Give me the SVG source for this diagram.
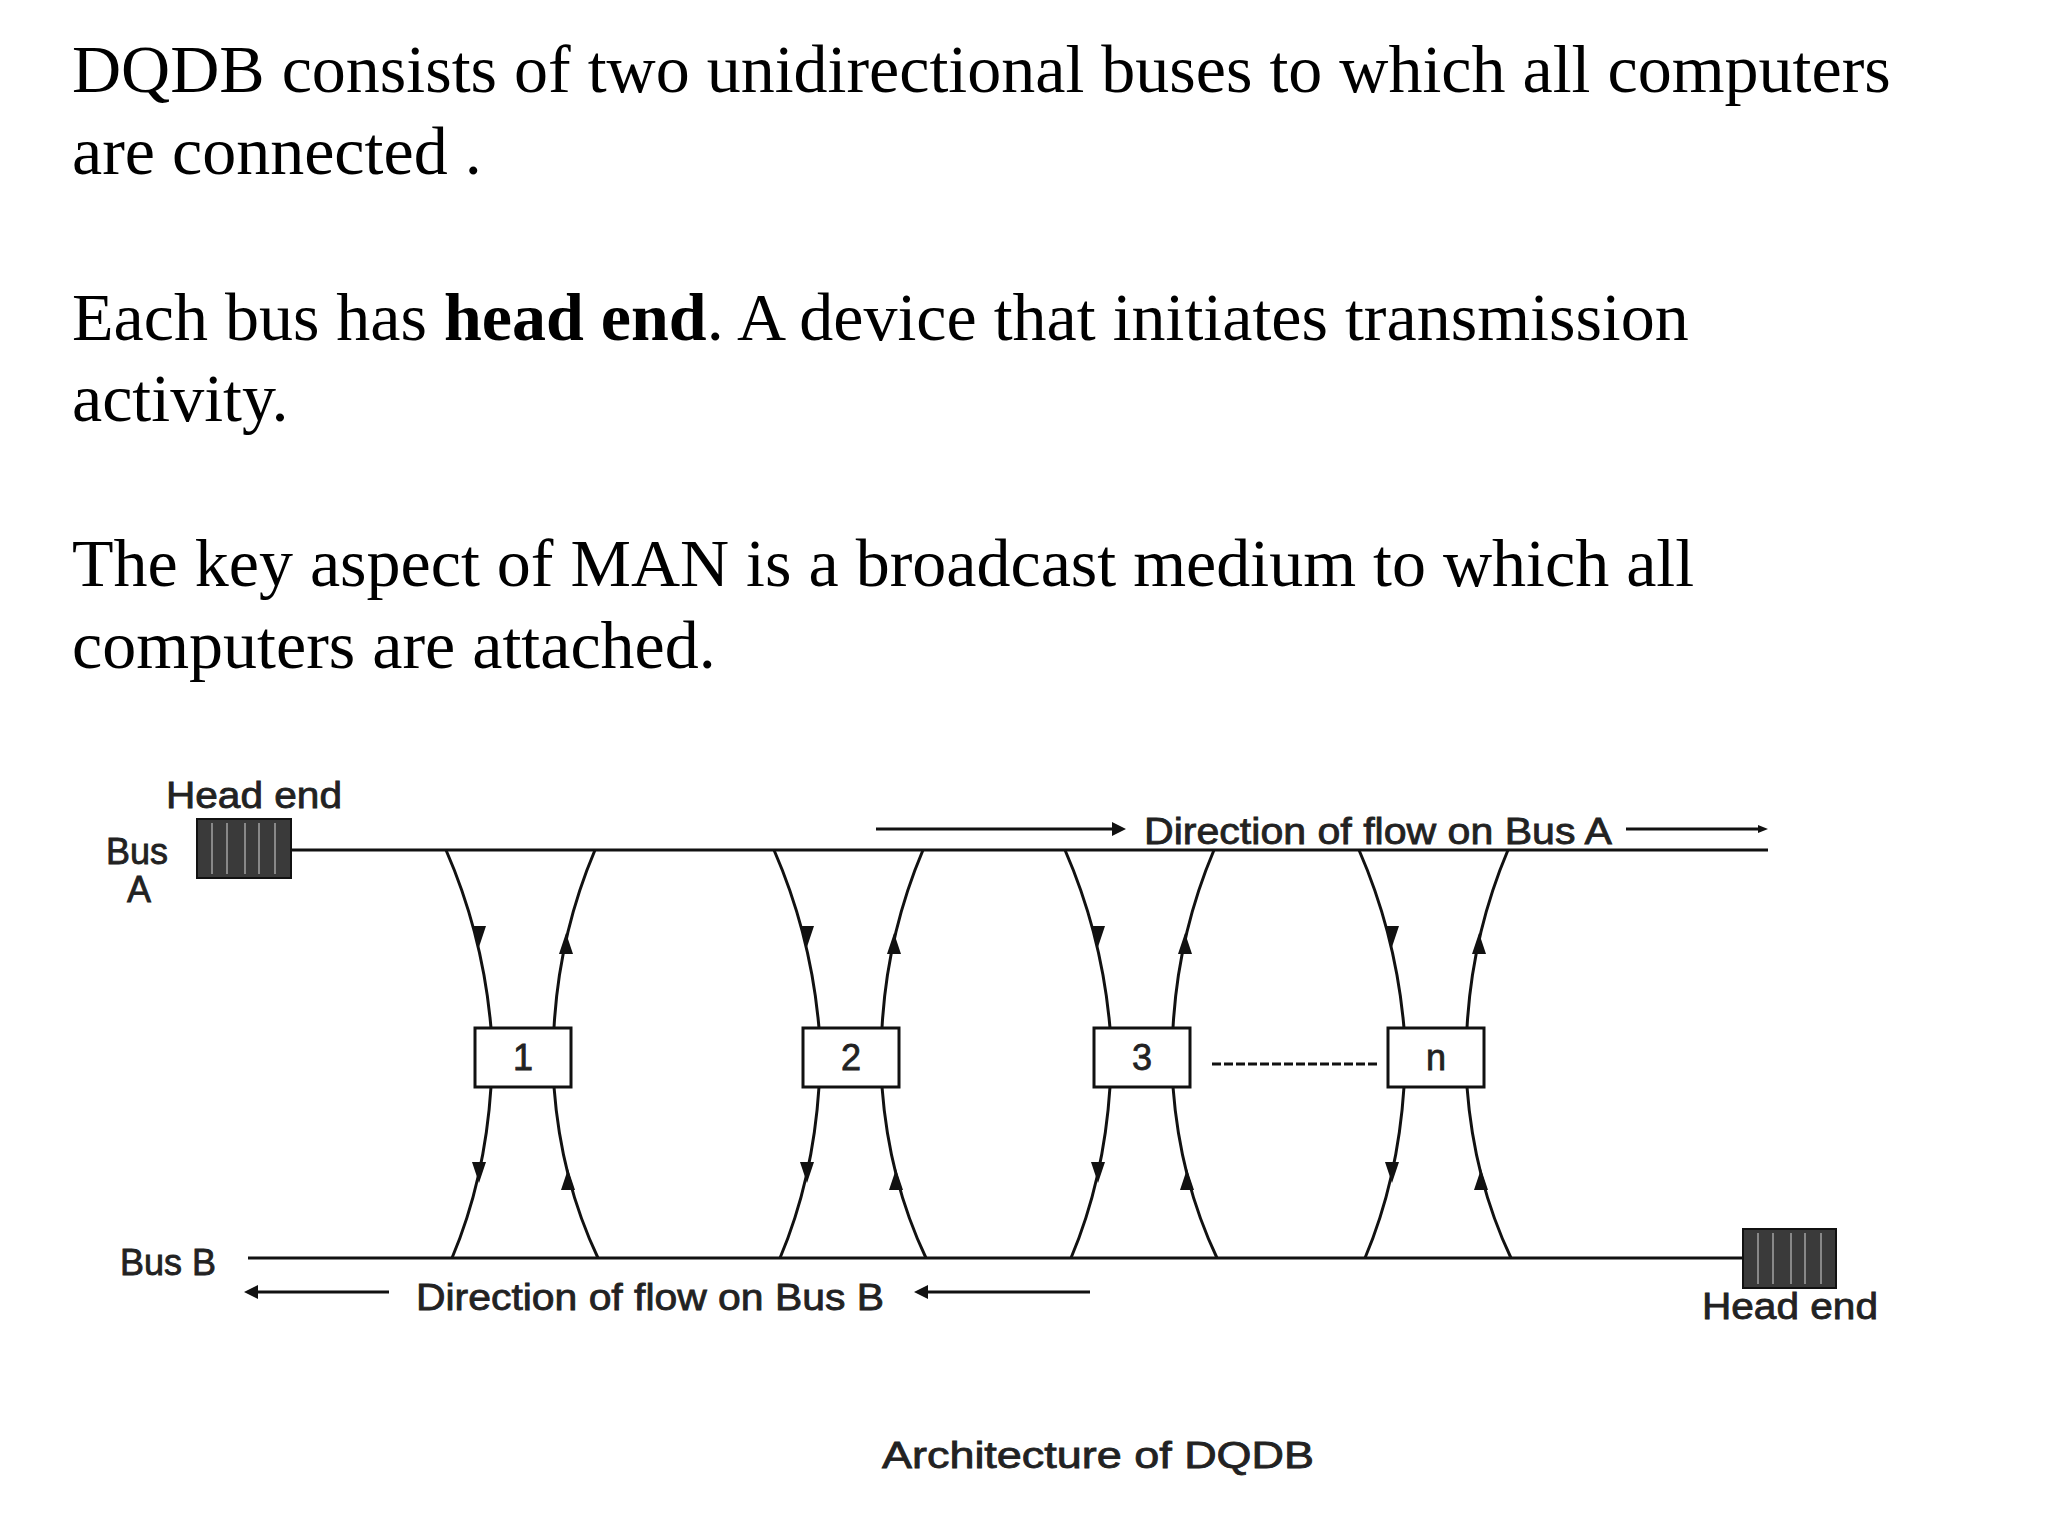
<svg xmlns="http://www.w3.org/2000/svg" width="2048" height="1536" viewBox="0 0 2048 1536">
<style>
.body{font-family:"Liberation Serif","Times New Roman",serif;font-size:68px;fill:#000}
.lbl{font-family:"Liberation Sans",Arial,sans-serif;font-size:36px;fill:#222;stroke:#222;stroke-width:0.8}
.ln{fill:none;stroke:#111;stroke-width:3}
.box{fill:#fff;stroke:#111;stroke-width:3}
.ah{fill:#111}
.he{fill:#3a3a3a;stroke:#111;stroke-width:2}
.st{stroke:#888;stroke-width:2}
</style>
<defs>
<polygon id="dn" class="ah" points="-7,-14 7,-14 0,7"/>
<polygon id="up" class="ah" points="-7,14 7,14 0,-7"/>
<g id="node">
<path class="ln" d="M-29,850 Q8,935 16,1028"/>
<path class="ln" d="M120,850 Q84,935 79,1028"/>
<path class="ln" d="M16,1087 Q10,1180 -23,1258"/>
<path class="ln" d="M79,1087 Q86,1180 123,1258"/>
<use href="#dn" x="4" y="940"/>
<use href="#up" x="91" y="940"/>
<use href="#dn" x="4" y="1176"/>
<use href="#up" x="93" y="1176"/>
<rect class="box" x="0" y="1028" width="96" height="59"/>
</g>
<g id="stripes">
<line class="st" x1="15" y1="4" x2="15" y2="55"/><line class="st" x1="30" y1="4" x2="30" y2="55"/>
<line class="st" x1="48" y1="4" x2="48" y2="55"/><line class="st" x1="62" y1="4" x2="62" y2="55"/>
<line class="st" x1="78" y1="4" x2="78" y2="55"/>
</g>
</defs>
<text class="body" x="72" y="92">DQDB consists of two unidirectional buses to which all computers</text>
<text class="body" x="72" y="174">are connected .</text>
<text class="body" x="72" y="340">Each bus has <tspan font-weight="bold">head end</tspan>. A device that initiates transmission</text>
<text class="body" x="72" y="421">activity.</text>
<text class="body" x="72" y="586">The key aspect of MAN is a broadcast medium to  which all</text>
<text class="body" x="72" y="668">computers are attached.</text>

<g id="connectors">
<line class="ln" x1="291" y1="850" x2="1768" y2="850"/>
<line class="ln" x1="248" y1="1258" x2="1743" y2="1258"/>
<line class="ln" x1="876" y1="829" x2="1112" y2="829"/>
<polygon class="ah" points="1112,822 1126,829 1112,836"/>
<line class="ln" x1="1626" y1="829" x2="1762" y2="829"/>
<polygon class="ah" points="1758,825 1768,829 1758,833"/>
<line class="ln" x1="258" y1="1292" x2="389" y2="1292"/>
<polygon class="ah" points="258,1285 244,1292 258,1299"/>
<line class="ln" x1="928" y1="1292" x2="1090" y2="1292"/>
<polygon class="ah" points="928,1285 914,1292 928,1299"/>
<line x1="1212" y1="1064" x2="1378" y2="1064" stroke="#111" stroke-width="3" stroke-dasharray="9,3"/>
</g>

<g id="headA"><rect class="he" x="197" y="819" width="94" height="59"/><use href="#stripes" x="197" y="819"/></g>
<g id="headB"><rect class="he" x="1743" y="1229" width="93" height="59"/><use href="#stripes" x="1743" y="1229"/></g>

<g id="n1"><use href="#node" x="475"/><text class="lbl" x="523" y="1070" text-anchor="middle">1</text></g>
<g id="n2"><use href="#node" x="803"/><text class="lbl" x="851" y="1070" text-anchor="middle">2</text></g>
<g id="n3"><use href="#node" x="1094"/><text class="lbl" x="1142" y="1070" text-anchor="middle">3</text></g>
<g id="nn"><use href="#node" x="1388"/><text class="lbl" x="1436" y="1070" text-anchor="middle">n</text></g>

<text class="lbl" x="166" y="808" textLength="176" lengthAdjust="spacingAndGlyphs">Head end</text>
<text class="lbl" x="106" y="864">Bus</text>
<text class="lbl" x="127" y="902">A</text>
<text class="lbl" x="120" y="1275">Bus B</text>
<text class="lbl" x="1144" y="844" textLength="468" lengthAdjust="spacingAndGlyphs">Direction of flow on Bus A</text>
<text class="lbl" x="416" y="1310" textLength="468" lengthAdjust="spacingAndGlyphs">Direction of flow on Bus B</text>
<text class="lbl" x="1702" y="1319" textLength="176" lengthAdjust="spacingAndGlyphs">Head end</text>
<text class="lbl" x="882" y="1468" textLength="432" lengthAdjust="spacingAndGlyphs">Architecture of DQDB</text>
</svg>
